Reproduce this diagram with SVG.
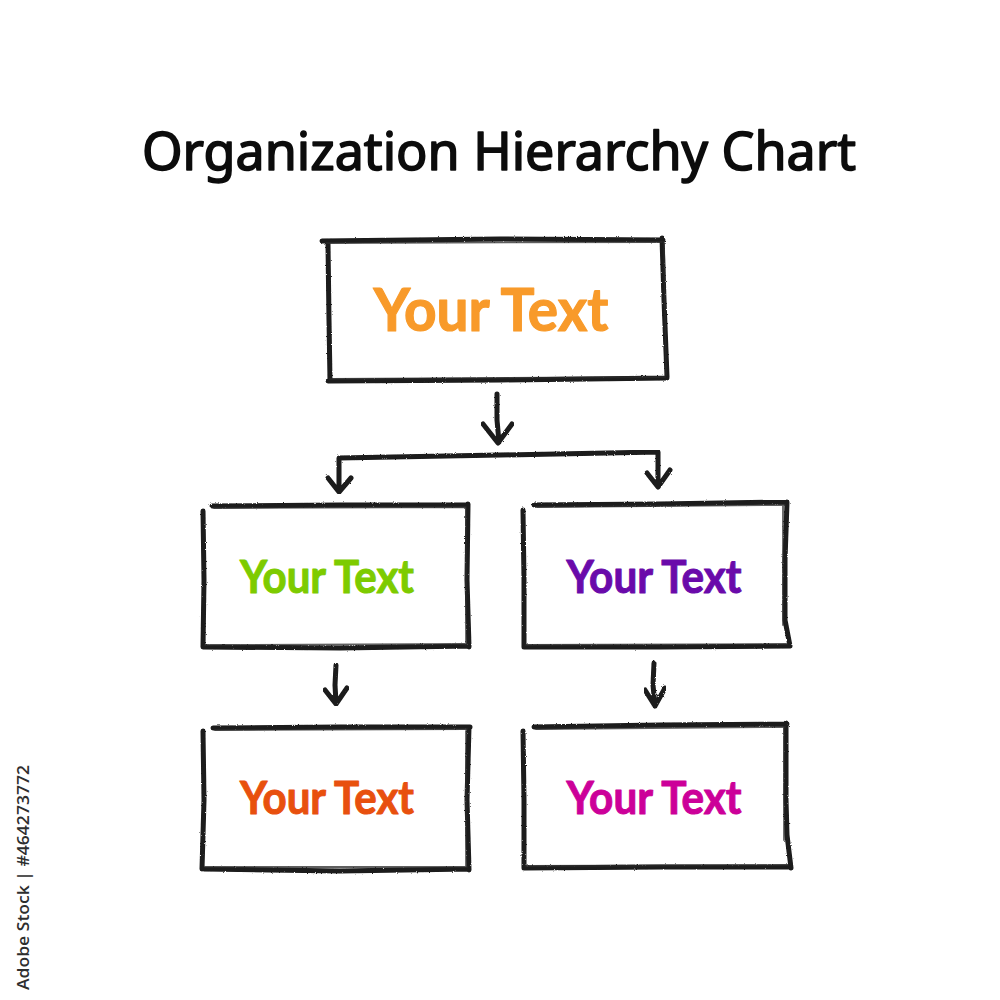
<svg xmlns="http://www.w3.org/2000/svg" width="1000" height="1000" viewBox="0 0 1000 1000">
  <defs>
    <filter id="rough" x="-5%" y="-5%" width="110%" height="110%">
      <feTurbulence type="fractalNoise" baseFrequency="0.9" numOctaves="2" seed="3" result="n"/>
      <feDisplacementMap in="SourceGraphic" in2="n" scale="2.2"/>
    </filter>
    <style>
      .sk { fill: none; stroke: #1a1a1a; stroke-width: 5; stroke-linecap: round; stroke-linejoin: round; filter: url(#rough); }
      .sk2 { fill: none; stroke: #2a2a2a; stroke-width: 1.8; stroke-linecap: round; opacity: 0.75; }
      .title { font-family: "Noto Sans", "Open Sans", sans-serif; font-size: 52px; fill: #0c0c0c; stroke: #0c0c0c; stroke-width: 1.6; stroke-linejoin: round; }
      .lbl { font-family: "Lato", "Noto Sans", sans-serif; font-weight: 700; text-anchor: middle; stroke-linejoin: round; }
      .big { font-size: 60px; }
      .mid { font-size: 45px; }
      .wm { font-family: "Open Sans", "Noto Sans", sans-serif; font-size: 17px; font-weight: 600; fill: #2e2e2e; }
    </style>
  </defs>
  <rect width="1000" height="1000" fill="#ffffff"/>

  <text class="title" x="142" y="170" textLength="714" lengthAdjust="spacingAndGlyphs">Organization Hierarchy Chart</text>

  <text class="wm" transform="translate(29,990) rotate(-90)" textLength="225" lengthAdjust="spacingAndGlyphs">Adobe Stock | #464273772</text>

  <g id="node-top">
    <path class="sk" d="M322,241 L500,239 L663,240 M662,238 L664,300 L667,377 M328,381 L500,380 L667,378 M328,244 L329,320 L330,381"/>
    <path class="sk2" d="M326,243 L662,242 M664,242 L666,375 M330,379 L665,377"/>
    <text class="lbl big" x="491" y="331" fill="#F89A2A" stroke="#F89A2A" stroke-width="1.2" textLength="235" lengthAdjust="spacingAndGlyphs">Your Text</text>
  </g>

  <g id="node-mid-left">
    <path class="sk" d="M212,506 L340,505 L468,505 M468,504 L467,580 L469,647 M204,647 L340,648 L469,646 M203,511 L204,580 L203,647"/>
    <path class="sk2" d="M214,508 L466,507 M466,507 L466,645 M205,645 L467,644"/>
    <text class="lbl mid" x="327" y="593" fill="#7DCB00" stroke="#7DCB00" stroke-width="1" textLength="174" lengthAdjust="spacingAndGlyphs">Your Text</text>
  </g>

  <g id="node-mid-right">
    <path class="sk" d="M534,505 L660,504 L787,502 M787,502 L785,560 L785,620 L790,646 M524,647 L660,647 L790,646 M523,510 L524,580 L524,647"/>
    <path class="sk2" d="M536,507 L785,505 M783,505 L783,625 M526,645 L787,644"/>
    <text class="lbl mid" x="654" y="593" fill="#6A0AAA" stroke="#6A0AAA" stroke-width="1" textLength="175" lengthAdjust="spacingAndGlyphs">Your Text</text>
  </g>

  <g id="node-bot-left">
    <path class="sk" d="M213,728 L340,727 L470,727 M469,727 L467,800 L469,870 M204,869 L340,871 L469,869 M203,731 L204,800 L202,869"/>
    <path class="sk2" d="M215,730 L467,729 M466,730 L466,867 M205,867 L467,867"/>
    <text class="lbl mid" x="327" y="814" fill="#E8500E" stroke="#E8500E" stroke-width="1" textLength="174" lengthAdjust="spacingAndGlyphs">Your Text</text>
  </g>

  <g id="node-bot-right">
    <path class="sk" d="M534,727 L660,725 L787,724 M786,723 L786,800 L787,835 L791,868 M524,868 L660,867 L790,867 M523,731 L524,800 L524,868"/>
    <path class="sk2" d="M536,729 L785,727 M784,727 L784,840 M526,866 L788,865"/>
    <text class="lbl mid" x="654" y="814" fill="#CC0099" stroke="#CC0099" stroke-width="1" textLength="175" lengthAdjust="spacingAndGlyphs">Your Text</text>
  </g>

  <g id="connectors">
    <path class="sk" d="M497,394 L497,420 L499,442 M483,424 L498,443 L512,424"/>
    <path class="sk" d="M339,490 L339,458 L500,455 L658,452 L658,485 M328,478 L339,492 L351,478 M647,473 L658,487 L670,470"/>
    <path class="sk" d="M336,665 L335,685 L336,703 M325,690 L336,704 L347,688"/>
    <path class="sk" d="M654,663 L653,685 L655,706 M645,690 L655,706 L665,688"/>
  </g>
</svg>
